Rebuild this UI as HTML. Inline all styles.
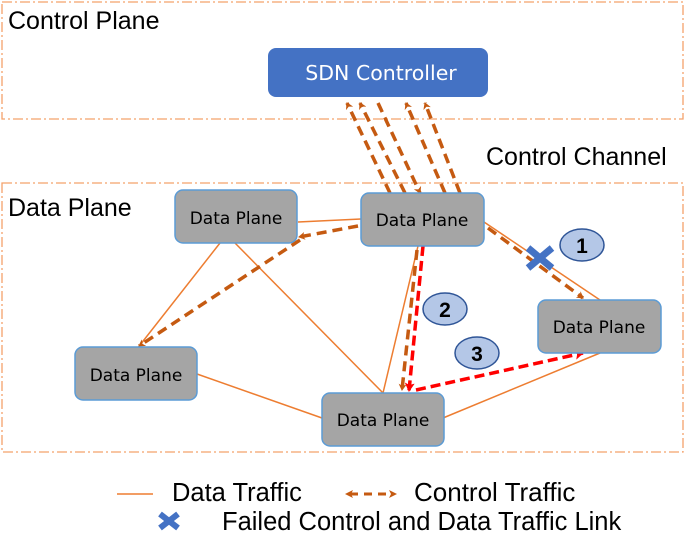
<!DOCTYPE html>
<html><head><style>body{margin:0;background:#fff}svg{display:block}</style></head><body>
<svg width="685" height="533" viewBox="0 0 685 533" font-family="Liberation Sans, sans-serif">
<defs>
<marker id="ab" markerWidth="8" markerHeight="8" refX="6" refY="4" orient="auto" markerUnits="userSpaceOnUse"><path d="M0,0 L7,4 L0,8 L2,4z" fill="#c55a11"/></marker>
<marker id="ar" markerWidth="10" markerHeight="10" refX="8" refY="5" orient="auto" markerUnits="userSpaceOnUse"><path d="M0,0 L9,5 L0,10 L2,5z" fill="#ff0000"/></marker>
</defs>
<g fill="none" stroke="#f4a26b" stroke-width="1.3" stroke-dasharray="10,3,2,3">
<rect x="2" y="2" width="681" height="117"/>
<rect x="2" y="183" width="681" height="269"/>
</g>
<text x="8" y="29" font-size="25">Control Plane</text>
<text x="486" y="165" font-size="25">Control Channel</text>
<text x="8" y="216" font-size="25">Data Plane</text>
<rect x="268" y="48" width="220" height="49" rx="8" fill="#4472c4"/>
<text x="381" y="80" font-size="20.5" fill="#fff" text-anchor="middle" font-family="DejaVu Sans, sans-serif">SDN Controller</text>
<g stroke="#ed7d31" stroke-width="1.5">
<line x1="361" y1="219" x2="298" y2="222"/>
<line x1="220" y1="243" x2="140" y2="345"/>
<line x1="235" y1="243" x2="383" y2="393"/>
<line x1="197" y1="374" x2="322" y2="418"/>
<line x1="418" y1="246" x2="383" y2="393"/>
<line x1="484" y1="222" x2="600" y2="300"/>
<line x1="443" y1="418" x2="600" y2="353"/>
</g>
<g stroke="#c55a11" stroke-width="3.5" stroke-dasharray="10,6" fill="none" marker-end="url(#ab)">
<line x1="390" y1="193" x2="347" y2="103"/>
<line x1="405" y1="193" x2="360" y2="103"/>
<line x1="378" y1="103" x2="420" y2="193"/>
<line x1="445" y1="193" x2="406" y2="103"/>
<line x1="460" y1="193" x2="425" y2="103"/>
<line x1="358" y1="226" x2="299" y2="237"/>
<line x1="300" y1="240" x2="139" y2="346"/>
<line x1="417" y1="250" x2="402" y2="390"/>
<line x1="488" y1="228" x2="583" y2="298"/>
</g>
<g stroke="#ff0000" stroke-width="3.5" stroke-dasharray="10,5" fill="none" marker-end="url(#ar)">
<line x1="423" y1="246" x2="409" y2="391"/>
<line x1="416" y1="390" x2="583" y2="353"/>
</g>
<g fill="#a5a5a5" stroke="#5b9bd5" stroke-width="1.5">
<rect x="175" y="190" width="122" height="53" rx="8"/>
<rect x="361" y="193" width="123" height="53" rx="8"/>
<rect x="538" y="300" width="123" height="53" rx="8"/>
<rect x="75" y="347" width="122" height="53" rx="8"/>
<rect x="322" y="393" width="122" height="53" rx="8"/>
</g>
<g font-size="17" text-anchor="middle" font-family="DejaVu Sans, sans-serif" fill="#000">
<text x="236" y="224">Data Plane</text>
<text x="422" y="226">Data Plane</text>
<text x="599" y="333">Data Plane</text>
<text x="136" y="381">Data Plane</text>
<text x="383" y="426">Data Plane</text>
</g>
<g stroke="#4472c4" stroke-width="7">
<line x1="528" y1="248" x2="552" y2="268"/>
<line x1="552" y1="248" x2="528" y2="268"/>
</g>
<g fill="#b4c7e7" stroke="#2f5597" stroke-width="1.5">
<ellipse cx="582" cy="245" rx="22" ry="16"/>
<ellipse cx="445" cy="309" rx="22" ry="16"/>
<ellipse cx="477" cy="353" rx="22" ry="16"/>
</g>
<g font-size="21" font-weight="bold" text-anchor="middle">
<text x="582" y="253">1</text>
<text x="445" y="317">2</text>
<text x="477" y="361">3</text>
</g>
<line x1="117" y1="494" x2="153" y2="494" stroke="#ed7d31" stroke-width="1.5"/>
<text x="172" y="501" font-size="25.5">Data Traffic</text>
<line x1="350" y1="494" x2="392" y2="494" stroke="#c55a11" stroke-width="3" stroke-dasharray="8,6"/>
<path d="M345,494 L353,490 L351,494 L353,498z M397,494 L389,490 L391,494 L389,498z" fill="#c55a11"/>
<text x="414" y="501" font-size="26">Control Traffic</text>
<g stroke="#4472c4" stroke-width="6">
<line x1="160" y1="514" x2="178" y2="528"/>
<line x1="178" y1="514" x2="160" y2="528"/>
</g>
<text x="222" y="530" font-size="25.5">Failed Control and Data Traffic Link</text>
</svg>
</body></html>
